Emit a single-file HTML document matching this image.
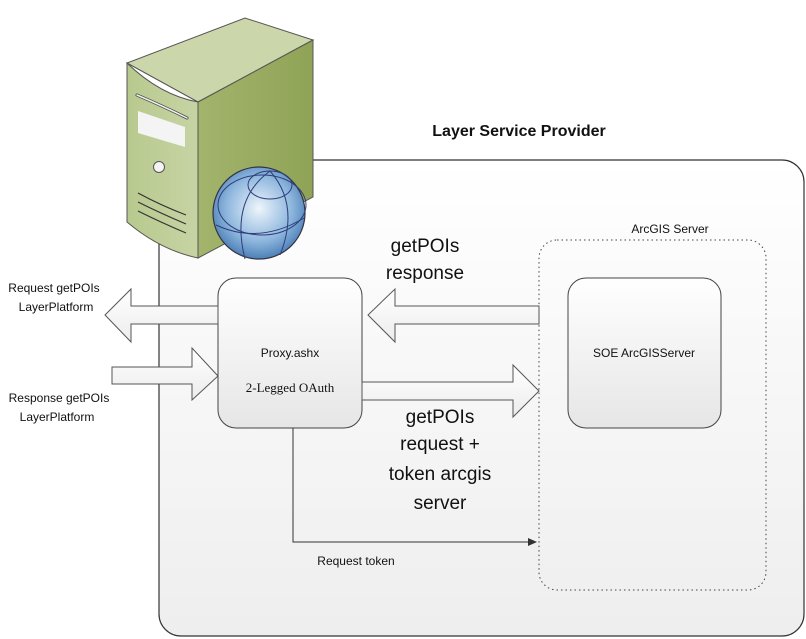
<!DOCTYPE html>
<html><head><meta charset="utf-8"><style>
body{margin:0;background:#fff}
svg{display:block}
text{font-family:"Liberation Sans",sans-serif}
</style></head><body>
<svg width="806" height="639" viewBox="0 0 806 639" xmlns="http://www.w3.org/2000/svg">
<defs>
<linearGradient id="bg" x1="0" y1="0" x2="0" y2="1"><stop offset="0" stop-color="#ffffff"/><stop offset="1" stop-color="#eeeeee"/></linearGradient>
<linearGradient id="box" x1="0" y1="0" x2="0" y2="1"><stop offset="0" stop-color="#ffffff"/><stop offset="1" stop-color="#e6e6e6"/></linearGradient>
<linearGradient id="arr" x1="0" y1="0" x2="0" y2="1"><stop offset="0" stop-color="#ffffff"/><stop offset="1" stop-color="#ececec"/></linearGradient>
<linearGradient id="front" x1="0" y1="0" x2="1" y2="0"><stop offset="0" stop-color="#b8c98e"/><stop offset="1" stop-color="#c6d4a4"/></linearGradient>
<linearGradient id="side" x1="0" y1="0" x2="1" y2="0"><stop offset="0" stop-color="#a3b46c"/><stop offset="1" stop-color="#8fa356"/></linearGradient>
<radialGradient id="globe" cx="0.5" cy="0.45" r="0.6"><stop offset="0" stop-color="#eef5fb"/><stop offset="0.6" stop-color="#8db6dd"/><stop offset="1" stop-color="#3d72ad"/></radialGradient>
</defs>

<text x="519" y="136" font-size="16" font-weight="bold" text-anchor="middle" fill="#111">Layer Service Provider</text>

<rect x="159" y="160" width="645" height="476" rx="22" fill="url(#bg)" stroke="#333" stroke-width="1.2"/>

<polygon points="127,63 245,18 313,40 198,102" fill="#cbd7aa" stroke="#555" stroke-width="1"/>
<polygon points="198,102 313,40 313,197 198,258" fill="url(#side)" stroke="#555" stroke-width="1"/>
<path d="M127,63 Q160,95 198,102 L198,258 Q160,250 127,222 Z" fill="url(#front)" stroke="#555" stroke-width="1"/>
<path d="M137,95 Q165,107 187,118" stroke="#444" stroke-width="3" fill="none" stroke-linecap="round"/>
<path d="M137,95 Q165,107 187,118" stroke="#eee" stroke-width="1.5" fill="none" stroke-linecap="round"/>
<polygon points="138,111 185,127 185,147 138,133" fill="#f4f4f4"/>
<circle cx="159" cy="167" r="5.5" fill="#f4f4f4" stroke="#555"/>
<path d="M138,193 Q160,205 186,215 M138,202 Q160,213 186,224 M138,211 Q160,222 186,233" stroke="#333" stroke-width="1.2" fill="none"/>
<circle cx="259" cy="213" r="46" fill="url(#globe)" stroke="#334" stroke-width="1.2"/>
<g stroke="#2f3d7a" stroke-width="1" fill="none">
<ellipse cx="270" cy="185" rx="22" ry="14"/>
<ellipse cx="262" cy="205" rx="44" ry="30"/>
<path d="M270,171 Q230,200 245,259"/>
<path d="M270,171 Q300,205 280,255"/>
<path d="M216,225 Q259,245 304,218"/>
</g>

<rect x="218" y="278" width="144" height="150" rx="18" fill="url(#box)" stroke="#444"/>
<text x="290" y="357" font-size="12" text-anchor="middle" fill="#111">Proxy.ashx</text>
<text x="290" y="392" font-size="13" text-anchor="middle" fill="#111" style="font-family:'Liberation Serif',serif">2-Legged OAuth</text>

<rect x="539" y="240" width="227" height="350" rx="18" fill="none" stroke="#444" stroke-dasharray="1.5 3"/>
<text x="670" y="233" font-size="12" text-anchor="middle" fill="#111">ArcGIS Server</text>
<rect x="568" y="278" width="153" height="150" rx="18" fill="url(#box)" stroke="#444"/>
<text x="644" y="357" font-size="12" text-anchor="middle" fill="#111">SOE ArcGISServer</text>

<polygon points="218,306 131,306 131,289 105,315 131,342 131,324 218,324" fill="url(#arr)" stroke="#555"/>
<polygon points="112,367 192,367 192,348 218,376 192,400 192,384 112,384" fill="url(#arr)" stroke="#555"/>
<polygon points="539,306 395,306 395,289 368,315 395,342 395,324 539,324" fill="url(#arr)" stroke="#555"/>
<polygon points="362,382 513,382 513,365 539,391 513,417 513,400 362,400" fill="url(#arr)" stroke="#555"/>

<polyline points="293,428 293,542 528,542" fill="none" stroke="#333"/>
<polygon points="528,538 537,542 528,546" fill="#333"/>

<text x="54" y="292" font-size="12" text-anchor="middle" fill="#111">Request getPOIs</text>
<text x="56" y="311" font-size="12" text-anchor="middle" fill="#111">LayerPlatform</text>
<text x="59" y="402" font-size="12" text-anchor="middle" fill="#111">Response getPOIs</text>
<text x="57" y="421" font-size="12" text-anchor="middle" fill="#111">LayerPlatform</text>

<text x="425" y="252" font-size="19" text-anchor="middle" fill="#111">getPOIs</text>
<text x="425" y="279" font-size="19" text-anchor="middle" fill="#111">response</text>
<text x="440" y="423" font-size="19" text-anchor="middle" fill="#111">getPOIs</text>
<text x="440" y="450" font-size="19" text-anchor="middle" fill="#111">request +</text>
<text x="440" y="480" font-size="19" text-anchor="middle" fill="#111">token arcgis</text>
<text x="440" y="509" font-size="19" text-anchor="middle" fill="#111">server</text>
<text x="356" y="565" font-size="12" text-anchor="middle" fill="#111">Request token</text>
</svg>
</body></html>
